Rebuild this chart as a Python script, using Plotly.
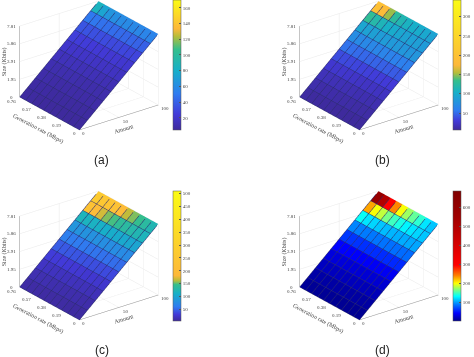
import plotly.graph_objects as go

amount = [0, 10, 20, 30, 40, 50, 60, 70, 80, 90, 100]
rate = [0, 0.076, 0.152, 0.228, 0.304, 0.38, 0.456, 0.532, 0.608, 0.684, 0.76]
size_kbits = [0, 0.78, 1.56, 2.34, 3.12, 3.9, 4.68, 5.46, 6.24, 7.02, 7.8]

amount_ticks = [0, 50, 100]
amount_labels = ["0", "50", "100"]
rate_ticks = [0, 0.19, 0.38, 0.57, 0.7599]
rate_labels = ["0", "0.19", "0.38", "0.57", "0.76"]
size_ticks = [0, 1.95, 3.9, 5.85, 7.7999]
size_labels = ["0", "1.95", "3.91", "5.86", "7.81"]

# colour value of each cell: rows go along Amount, columns along Generation rate
cells_a = [
    [5, 5, 5, 5, 5, 5, 5, 5, 6, 6],
    [6, 6, 6, 6, 6, 6, 6, 7, 7, 7],
    [8, 8, 8, 8, 8, 8, 8, 8, 9, 9],
    [10, 10, 10, 10, 10, 11, 11, 11, 11, 12],
    [13, 13, 13, 14, 14, 14, 15, 15, 15, 16],
    [17, 17, 18, 18, 18, 19, 19, 20, 20, 21],
    [22, 22, 23, 23, 24, 24, 25, 26, 26, 27],
    [29, 29, 30, 31, 31, 32, 33, 34, 35, 36],
    [40, 41, 42, 43, 44, 45, 46, 47, 49, 50],
    [55, 56, 57, 58, 59, 60, 62, 65, 74, 85],
]
cells_b = [
    [7, 7, 7, 7, 7, 8, 8, 8, 8, 9],
    [10, 10, 10, 11, 11, 11, 12, 12, 12, 13],
    [14, 14, 15, 15, 16, 16, 17, 17, 18, 18],
    [21, 21, 22, 22, 23, 24, 25, 26, 26, 27],
    [30, 31, 32, 32, 33, 34, 35, 36, 37, 38],
    [43, 44, 45, 46, 47, 48, 49, 50, 52, 53],
    [60, 61, 62, 63, 65, 66, 67, 69, 70, 72],
    [80, 81, 82, 83, 84, 86, 87, 89, 91, 95],
    [85, 88, 90, 92, 96, 100, 105, 112, 120, 130],
    [92, 97, 100, 103, 108, 115, 125, 150, 185, 195],
]
cells_c = [
    [8, 8, 8, 9, 9, 9, 9, 10, 10, 10],
    [12, 12, 13, 13, 13, 14, 14, 15, 15, 15],
    [18, 18, 19, 19, 20, 20, 21, 21, 22, 23],
    [27, 27, 28, 28, 29, 30, 31, 32, 32, 33],
    [38, 39, 40, 41, 42, 43, 44, 45, 46, 47],
    [54, 55, 56, 57, 58, 59, 60, 61, 62, 64],
    [76, 77, 78, 79, 80, 82, 83, 84, 85, 87],
    [102, 104, 106, 108, 110, 112, 114, 116, 118, 120],
    [120, 125, 130, 135, 140, 148, 155, 170, 200, 230],
    [125, 135, 145, 155, 165, 200, 225, 240, 255, 270],
]
cells_d = [
    [7, 7, 7, 7, 7, 8, 8, 8, 8, 9],
    [12, 12, 12, 12, 13, 13, 13, 13, 14, 14],
    [20, 20, 20, 21, 21, 21, 22, 22, 22, 23],
    [29, 29, 30, 30, 30, 31, 31, 32, 32, 33],
    [41, 41, 42, 42, 43, 43, 44, 44, 45, 46],
    [60, 60, 61, 61, 62, 62, 63, 64, 65, 66],
    [85, 85, 86, 87, 88, 89, 90, 91, 93, 95],
    [105, 106, 107, 108, 110, 112, 115, 120, 125, 135],
    [115, 120, 125, 130, 140, 150, 165, 185, 200, 230],
    [115, 125, 145, 160, 175, 200, 240, 300, 500, 590],
]

scale_a = [[0, "#3e2a9c"], [0.12, "#4239d8"], [0.28, "#2f7cf0"], [0.46, "#17b0c8"],
           [0.62, "#35bf8c"], [0.72, "#b6bd3a"], [0.78, "#fdb83a"], [1, "#fbfb14"]]
scale_b = [[0, "#3e2a9c"], [0.07, "#4239d8"], [0.15, "#2f7cf0"], [0.29, "#17b0c8"],
           [0.38, "#35bf8c"], [0.44, "#b6bd3a"], [0.5, "#fdb83a"], [1, "#fbfb14"]]
scale_c = [[0, "#3e2a9c"], [0.05, "#4239d8"], [0.11, "#2f7cf0"], [0.21, "#17b0c8"],
           [0.28, "#35bf8c"], [0.31, "#b6bd3a"], [0.35, "#fdb83a"], [1, "#fbfb14"]]
scale_d = [[0, "#00008f"], [0.06, "#0000ff"], [0.13, "#0080ff"], [0.19, "#00ffff"],
           [0.24, "#7fff7f"], [0.29, "#ffff00"], [0.35, "#ff8000"], [0.43, "#ff0000"],
           [0.8, "#a00000"], [1, "#800000"]]

panels = [
    dict(name="scene", cells=cells_a, scale=scale_a, cmin=4.5, cmax=170,
         ticks=[20, 40, 60, 80, 100, 120, 140, 160], cx=89.5, cy=65.5, bar=174, bottom=130, cap="(a)"),
    dict(name="scene2", cells=cells_b, scale=scale_b, cmin=6, cmax=343,
         ticks=[50, 100, 150, 200, 250, 300], cx=371.5, cy=65.5, bar=456, bottom=130, cap="(b)"),
    dict(name="scene3", cells=cells_c, scale=scale_c, cmin=5, cmax=510,
         ticks=[50, 100, 150, 200, 250, 300, 350, 400, 450, 500], cx=89.5, cy=255.5, bar=174, bottom=321, cap="(c)"),
    dict(name="scene4", cells=cells_d, scale=scale_d, cmin=4, cmax=684,
         ticks=[100, 200, 300, 400, 500, 600], cx=371.5, cy=255.5, bar=456, bottom=321, cap="(d)"),
]

W, H = 474, 357
HALF_W, HALF_H = 89.5, 65.5
SERIF = "Liberation Serif"
TXT = "#444444"
R = 1.73
K = 1.51
EDGE = "#2c2c6e"


def doubled(values):
    """Repeat inner grid values so every cell keeps one flat colour."""
    out = [values[0]]
    for v in values[1:-1]:
        out += [v, v]
    out.append(values[-1])
    return out


fig = go.Figure()
layout_scenes = {}
annotations = []

for p in panels:
    x2 = doubled(amount)
    y2 = doubled(rate)
    z2 = [doubled(size_kbits) for _ in y2]
    colour = []
    for j in range(len(rate) - 1):
        wide = []
        for i in range(len(amount) - 1):
            wide += [p["cells"][i][j]] * 2
        colour += [wide, wide]
    fig.add_trace(go.Surface(
        x=x2, y=y2, z=z2, surfacecolor=colour,
        colorscale=p["scale"], cmin=p["cmin"], cmax=p["cmax"], scene=p["name"],
        hoverinfo="skip",
        lighting=dict(ambient=1, diffuse=0, specular=0, roughness=1, fresnel=0),
        contours=dict(
            x=dict(show=True, start=0, end=100, size=10, color=EDGE, width=1, highlight=False),
            y=dict(show=True, start=0, end=0.76, size=0.076, color=EDGE, width=1, highlight=False),
            z=dict(show=False, highlight=False),
        ),
        colorbar=dict(
            x=p["bar"] / W, xanchor="left", xpad=0, ypad=0,
            y=(H - p["bottom"]) / H, yanchor="bottom", lenmode="pixels", len=130,
            thicknessmode="pixels", thickness=8, outlinewidth=0.5, outlinecolor="#555555",
            tickvals=p["ticks"], ticks="inside", ticklen=2, tickwidth=0.5, tickcolor="#555555",
            tickfont=dict(family=SERIF, size=5, color=TXT),
        ),
    ))

    axis = dict(showbackground=False, showgrid=True, gridcolor="#e8e8e8", gridwidth=1,
                showline=True, linecolor="#8a8a8a", linewidth=1, zeroline=False,
                showticklabels=False, ticks="", title=dict(text=""), showspikes=False)

    def note(x, y, z, text, dx, dy, angle=0, size=5):
        return dict(x=x, y=y, z=z, text=text, showarrow=False, xshift=dx, yshift=dy,
                    textangle=angle, font=dict(family=SERIF, size=size, color=TXT))
    notes = []
    notes += [note(v, 0, 0, t, 4 if v == 0 else 7, -4) for v, t in zip(amount_ticks, amount_labels)]
    notes += [note(0, v, 0, t, -5 if v == 0 else -8, -4) for v, t in zip(rate_ticks, rate_labels)]
    notes += [note(0, rate_ticks[-1], v, t, -8, 0) for v, t in zip(size_ticks, size_labels)]
    notes.append(note(50, 0, 0, "Amount", 5, -12, -17, 6))
    notes.append(note(0, 0.38, 0, "Generation rate (Mbps)", -12, -15, 28, 6))
    notes.append(note(0, rate_ticks[-1], 3.9, "Size (Kbits)", -15, 0, -90, 6))
    layout_scenes[p["name"]] = dict(
        domain=dict(x=[(p["cx"] - HALF_W) / W, (p["cx"] + HALF_W) / W],
                    y=[(H - p["cy"] - HALF_H) / H, (H - p["cy"] + HALF_H) / H]),
        aspectmode="manual", aspectratio=dict(x=K, y=K, z=0.79 * K),
        camera=dict(projection=dict(type="orthographic"),
                    eye=dict(x=-0.549 * R, y=-0.724 * R, z=0.417 * R),
                    center=dict(x=0, y=0, z=0), up=dict(x=0, y=0, z=1)),
        xaxis=dict(axis, range=[0, 100], tickvals=amount_ticks),
        yaxis=dict(axis, range=[0, 0.76], tickvals=[0, 0.19, 0.38, 0.57, 0.76]),
        zaxis=dict(axis, range=[0, 7.8], tickvals=[0, 1.95, 3.9, 5.85, 7.8]),
        annotations=notes,
        bgcolor="rgba(0,0,0,0)",
    )
    annotations.append(dict(x=(p["cx"] + 13) / W, y=(H - p["cy"] - 94.5) / H, xref="paper", yref="paper",
                            xanchor="center", yanchor="middle",
                            text=p["cap"], showarrow=False,
                            font=dict(family="Liberation Sans", size=12, color="#222222")))

fig.update_layout(width=W, height=H, margin=dict(l=0, r=0, t=0, b=0), showlegend=False,
                  paper_bgcolor="white", annotations=annotations, **layout_scenes)

fig.write_html("out.html", config=dict(displayModeBar=False),
               post_script="document.body.style.margin='0';document.documentElement.style.overflow='hidden';")
